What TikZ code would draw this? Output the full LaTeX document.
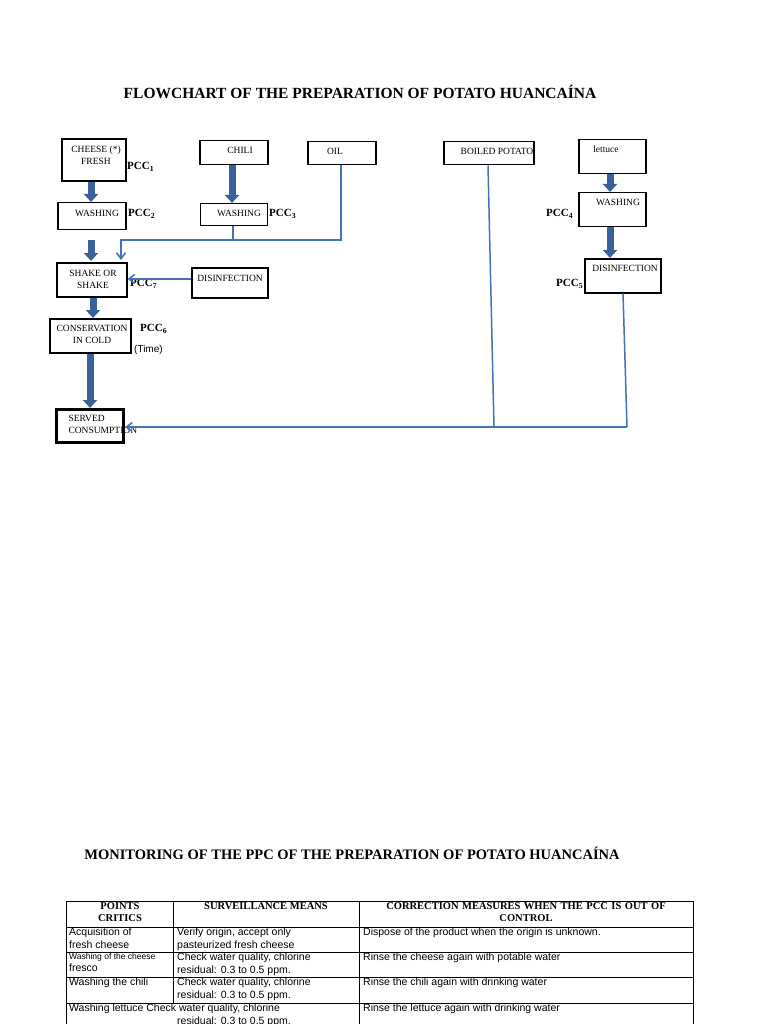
\documentclass[tikz,border=0pt]{standalone}
\usepackage{fontspec}
\setmainfont{Liberation Serif}
\newfontfamily\tsans{Liberation Sans}
\usetikzlibrary{arrows.meta}
\definecolor{fb}{RGB}{68,114,180}
\begin{document}
\begin{tikzpicture}[x=1pt,y=-1pt,
  bx/.style={draw,line width=1.5pt,inner sep=0pt,anchor=north west},
  bt/.style={font=\fontsize{9.5}{12}\selectfont,align=center},
  fat/.style={draw=fb!85!black,line width=7pt,-{Triangle[width=14pt,length=8pt]},fill=fb},
  thin/.style={draw=fb,line width=1.5pt},
  thina/.style={thin,-{Straight Barb[length=6pt,width=9pt]}},
  pcc/.style={font=\fontsize{11}{12}\selectfont\bfseries,anchor=west,inner sep=0pt},
  tx/.style={font=\tsans\fontsize{10.5}{12.5}\selectfont,anchor=north west,align=left,inner sep=0pt},
  th/.style={font=\fontsize{10.5}{12}\selectfont\bfseries,anchor=north,align=center,inner sep=0pt}]
\useasboundingbox (0,0) rectangle (768,1024);
\node[font=\fontsize{15.5}{18}\selectfont\bfseries] (t1) at (360,92) {FLOWCHART OF THE PREPARATION OF POTATO HUANCAÍNA};
% boxes
\node[bx,line width=2.2pt,minimum width=64pt,minimum height=42pt] (cheese) at (61,138) {};
\node[bt] at (96,155) {CHEESE (*)\\FRESH};
\node[bx,minimum width=68pt,minimum height=27pt] (w1) at (57,202) {};
\node[bt] at (97,213) {WASHING};
\node[bx,minimum width=68pt,minimum height=24pt] (chili) at (199,140) {};
\node[bt] at (240,150) {CHILI};
\node[bx,line width=0.8pt,minimum width=67pt,minimum height=22pt] (w2) at (200,203) {};
\node[bt] at (239,213) {WASHING};
\node[bx,minimum width=68pt,minimum height=23pt] (oil) at (307,141) {};
\node[bt] at (335,151) {OIL};
\node[bx,minimum width=90pt,minimum height=23pt] (pot) at (443,141) {};
\node[bt] at (497,151) {BOILED POTATO};
\node[bx,minimum width=67pt,minimum height=34pt] (let) at (578,139) {};
\node[bt] at (606,149) {lettuce};
\node[bx,minimum width=67pt,minimum height=34pt] (w3) at (578,192) {};
\node[bt] at (618,202) {WASHING};
\node[bx,minimum width=76pt,minimum height=34pt] (d2) at (584,258) {};
\node[bt] at (625,268) {DISINFECTION};
\node[bx,minimum width=70pt,minimum height=34pt] (shake) at (56,262) {};
\node[bt] at (93,279) {SHAKE OR\\SHAKE};
\node[bx,minimum width=76pt,minimum height=30pt] (d1) at (191,267) {};
\node[bt] at (230,278) {DISINFECTION};
\node[bx,minimum width=81pt,minimum height=34pt] (cons) at (49,318) {};
\node[bt] at (92,334) {CONSERVATION\\IN COLD};
\node[bx,line width=3pt,minimum width=67pt,minimum height=33pt] (serv) at (55,408) {};
\node[bt,align=left,anchor=west] at (65,424) {SERVED\\CONSUMPTION};
% labels
\node[pcc] at (127,167) {PCC\textsubscript{1}};
\node[pcc] at (128,214) {PCC\textsubscript{2}};
\node[pcc] at (269,214) {PCC\textsubscript{3}};
\node[pcc] at (546,214) {PCC\textsubscript{4}};
\node[pcc] at (556,284) {PCC\textsubscript{5}};
\node[pcc] at (140,329) {PCC\textsubscript{6}};
\node[pcc] at (130,284) {PCC\textsubscript{7}};
\node[font=\tsans\fontsize{10}{12}\selectfont,anchor=west,inner sep=0pt] at (134,350) {(Time)};
% fat arrows
\coordinate (a1) at (91,240);
\draw[fat] (cheese.south -| 91,0) -- (w1.north -| 91,0);
\draw[fat] (a1) -- (91,261);
\draw[fat] (chili.south -| 232,0) -- (w2.north -| 232,0);
\draw[fat] (shake.south -| 93,0) -- (cons.north -| 93,0);
\draw[fat] (cons.south -| 90,0) -- (serv.north -| 90,0);
\draw[fat] (let.south -| 610,0) -- (w3.north -| 610,0);
\draw[fat] (w3.south -| 610,0) -- (d2.north -| 610,0);
% thin connectors
\coordinate (j1) at (233,240);
\coordinate (j2) at (341,240);
\coordinate (j3) at (121,240);
\coordinate (j4) at (494,427);
\coordinate (j5) at (627,427);
\coordinate (j6) at (191,279);
\draw[thin] (w2.south -| 233,0) -- (j1);
\draw[thina] (oil.south -| 341,0) -- (j2) -- (j3) -- (121,260);
\draw[thina] (j6) -- (shake.east |- j6);
\draw[thin] (pot.south -| 488,0) -- (j4);
\draw[thin] (d2.south -| 623,0) -- (j5);
\draw[thina] (j5) -- (serv.east |- j5);
% second title
\node[font=\fontsize{14.5}{17}\selectfont\bfseries] (t2) at (352,853) {MONITORING OF THE PPC OF THE PREPARATION OF POTATO HUANCAÍNA};
% table
\draw[line width=0.7pt] (66,901) -- (693,901) (66,927) -- (693,927) (66,952) -- (693,952) (66,977) -- (693,977) (66,1003) -- (693,1003);
\draw[line width=0.7pt] (66,901) -- (66,1030) (359,901) -- (359,1030) (693,901) -- (693,1030) (173,901) -- (173,1003);
\node[th] at (120,902) {POINTS\\CRITICS};
\node[th] at (266,902) {SURVEILLANCE MEANS};
\node[th,text width=330pt] at (526,902) {CORRECTION MEASURES WHEN THE PCC IS OUT OF\\CONTROL};
\node[tx] at (69,928) {Acquisition of\\fresh cheese};
\node[tx] at (177,928) {Verify origin, accept only\\pasteurized fresh cheese};
\node[tx] at (363,928) {Dispose of the product when the origin is unknown.};
\node[tx] at (69,953) {{\fontsize{8.5}{12.5}\selectfont Washing of the cheese}\\fresco};
\node[tx] at (177,953) {Check water quality, chlorine\\residual: 0.3 to 0.5 ppm.};
\node[tx] at (363,953) {Rinse the cheese again with potable water};
\node[tx] at (69,978) {Washing the chili};
\node[tx] at (177,978) {Check water quality, chlorine\\residual: 0.3 to 0.5 ppm.};
\node[tx] at (363,978) {Rinse the chili again with drinking water};
\node[tx] at (69,1004) {Washing lettuce Check water quality, chlorine\\\hspace*{108pt}residual: 0.3 to 0.5 ppm.};
\node[tx] at (363,1004) {Rinse the lettuce again with drinking water};
\end{tikzpicture}
\end{document}
